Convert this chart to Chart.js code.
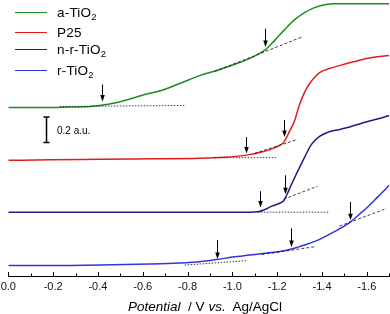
<!DOCTYPE html>
<html><head><meta charset="utf-8">
<script src="https://cdn.jsdelivr.net/npm/chart.js@4.4.0/dist/chart.umd.min.js"></script>
<style>
html,body{margin:0;padding:0;background:#fff;}
#wrap{position:relative;width:390px;height:314px;overflow:hidden;font-family:"Liberation Sans",Arial,sans-serif;color:#000;}
#wrap canvas{position:absolute;left:0;top:0;}
.li{position:absolute;left:15px;height:0;}
.li .ln{position:absolute;left:0;top:-0.75px;width:32px;height:0;border-top:1.5px solid;}
.li .tx{position:absolute;left:42px;top:-8px;font-size:13.5px;line-height:16px;white-space:nowrap;letter-spacing:0.2px;}
.li sub{font-size:9.5px;vertical-align:-3px;line-height:0;}
#xtitle{position:absolute;left:0;width:410px;top:299px;text-align:center;font-size:13.5px;line-height:16px;white-space:pre;}
</style>
</head><body>
<div id="wrap">
<canvas id="c" width="390" height="314"></canvas>
<div id="legend"></div>
<div id="xtitle"><i>Potential</i>  / V <i>vs.</i>  Ag/AgCl</div>
</div>
<script>
// ---- data (potential in V, signal in a.u.) ----
const seriesNames = ['a-TiO₂', 'P25', 'n-r-TiO₂', 'r-TiO₂'];
const seriesColors = ['#1e8c1e', '#e51c1c', '#1c1c8c', '#3434dc'];

const aTiO2V = [0, -0.141, -0.275, -0.364, -0.409, -0.475, -0.542, -0.609, -0.689, -0.765, -0.854, -0.943, -1.032, -1.099, -1.148, -1.188, -1.233, -1.278, -1.322, -1.367, -1.411, -1.456, -1.523, -1.612, -1.70];
const aTiO2A = [1.320, 1.320, 1.324, 1.328, 1.336, 1.355, 1.387, 1.422, 1.457, 1.508, 1.570, 1.617, 1.672, 1.723, 1.773, 1.844, 1.930, 2.008, 2.063, 2.102, 2.125, 2.133, 2.133, 2.133, 2.133];

const p25V = [0, -0.186, -0.409, -0.631, -0.854, -0.966, -1.055, -1.135, -1.193, -1.229, -1.255, -1.278, -1.300, -1.322, -1.345, -1.367, -1.389, -1.433, -1.478, -1.545, -1.598, -1.656, -1.70];
const p25A = [0.906, 0.910, 0.914, 0.918, 0.922, 0.930, 0.945, 0.973, 1.008, 1.047, 1.133, 1.219, 1.344, 1.438, 1.508, 1.555, 1.594, 1.625, 1.648, 1.680, 1.703, 1.719, 1.727];

const nrTiO2V = [0, -0.409, -0.854, -1.032, -1.113, -1.144, -1.175, -1.211, -1.229, -1.246, -1.264, -1.291, -1.322, -1.353, -1.389, -1.425, -1.478, -1.523, -1.567, -1.612, -1.656, -1.70];
const nrTiO2A = [0.500, 0.500, 0.500, 0.500, 0.504, 0.520, 0.547, 0.570, 0.590, 0.648, 0.719, 0.820, 0.930, 1.031, 1.094, 1.125, 1.148, 1.168, 1.191, 1.215, 1.234, 1.258];

const rTiO2V = [0, -0.186, -0.409, -0.631, -0.765, -0.854, -0.930, -1.001, -1.077, -1.153, -1.224, -1.264, -1.300, -1.376, -1.447, -1.523, -1.567, -1.598, -1.634, -1.665, -1.70];
const rTiO2A = [0.082, 0.082, 0.086, 0.094, 0.102, 0.112, 0.129, 0.148, 0.164, 0.180, 0.195, 0.211, 0.230, 0.277, 0.340, 0.418, 0.484, 0.531, 0.594, 0.648, 0.711];

// guide lines: baselines (flat) and tangents, [start, end]
const baselineV = [[-0.230, -0.787], [-0.921, -1.202], [-1.113, -1.433], [-0.787, -1.068]];
const baselineA = [[1.328, 1.336], [0.927, 0.927], [0.500, 0.500], [0.086, 0.120]];
const tangentV = [[-0.921, -1.309], [-1.099, -1.291], [-1.229, -1.380], [-1.131, -1.367], [-1.478, -1.688]];
const tangentA = [[1.602, 1.871], [0.961, 1.070], [0.602, 0.703], [0.168, 0.229], [0.391, 0.529]];

// onset arrows
const arrowV = [-0.416, -1.147, -1.059, -1.230, -1.125, -1.236, -0.931, -1.263, -1.527];
const arrowTipA = [1.367, 1.793, 0.959, 1.088, 0.537, 0.641, 0.133, 0.227, 0.4375];
const arrowTailA = [1.500, 1.938, 1.088, 1.223, 0.664, 0.789, 0.281, 0.373, 0.580];

// scale bar
const scaleBarV = -0.168;
const scaleBarLow = 1.045;
const scaleBarSize = 0.2;
const scaleBarLabel = '0.2 a.u.';

const xTickStep = 0.2;
const xMin = -1.7, xMax = 0;
const yMin = 0, yMax = 2.15625;

// ---- build ----
const FONT = '"Liberation Sans", Arial, sans-serif';
function pts(vs, as) { return vs.map((v, i) => ({x: v, y: as[i]})); }
function curve(i, vs, as) {
  return {label: seriesNames[i], data: pts(vs, as), borderColor: seriesColors[i], backgroundColor: seriesColors[i],
    borderWidth: 1.5, pointRadius: 0, cubicInterpolationMode: 'monotone', order: 2};
}
function guide(vs, as, dash) {
  return {label: '', data: pts(vs, as), borderColor: '#111', borderWidth: 0.8, borderDash: dash, pointRadius: 0, order: 1};
}
const datasets = [
  curve(0, aTiO2V, aTiO2A),
  curve(1, p25V, p25A),
  curve(2, nrTiO2V, nrTiO2A),
  curve(3, rTiO2V, rTiO2A),
  ...baselineV.map((v, i) => guide(v, baselineA[i], [1.5, 1.5])),
  ...tangentV.map((v, i) => guide(v, tangentA[i], [3, 2]))
];

const overlay = {
  id: 'overlay',
  afterDatasetsDraw(chart) {
    const {ctx, chartArea} = chart;
    const x = chart.scales.x, y = chart.scales.y;
    ctx.save();
    ctx.strokeStyle = '#000'; ctx.fillStyle = '#000'; ctx.lineWidth = 1;
    // arrows
    arrowV.forEach((v, i) => {
      const px = Math.round(x.getPixelForValue(v)) + 0.5;
      const ty = y.getPixelForValue(arrowTipA[i]);
      const ly = y.getPixelForValue(arrowTailA[i]);
      ctx.beginPath(); ctx.moveTo(px, ly); ctx.lineTo(px, ty - 4); ctx.stroke();
      ctx.beginPath(); ctx.moveTo(px - 2.3, ty - 6.5); ctx.lineTo(px + 2.3, ty - 6.5); ctx.lineTo(px, ty); ctx.closePath(); ctx.fill();
    });
    // scale bar
    const sx = Math.round(x.getPixelForValue(scaleBarV)) + 0.5;
    const sy0 = y.getPixelForValue(scaleBarLow), sy1 = y.getPixelForValue(scaleBarLow + scaleBarSize);
    ctx.lineWidth = 1.5;
    ctx.beginPath();
    ctx.moveTo(sx, sy0); ctx.lineTo(sx, sy1);
    ctx.moveTo(sx - 3, sy0); ctx.lineTo(sx + 3, sy0);
    ctx.moveTo(sx - 3, sy1); ctx.lineTo(sx + 3, sy1);
    ctx.stroke();
    ctx.font = '10px ' + FONT; ctx.textBaseline = 'middle'; ctx.textAlign = 'left';
    ctx.fillText(scaleBarLabel, sx + 10.5, (sy0 + sy1) / 2 + 1);
    // inward tick marks (major at labelled ticks, minor halfway)
    const ay = chartArea.bottom;
    ctx.lineWidth = 1;
    const tv = x.ticks.map(t => t.value);
    const marks = [];
    tv.forEach((v, i) => { marks.push([v, 4]); if (i > 0) marks.push([(v + tv[i - 1]) / 2, 2.5]); });
    marks.push([tv[tv.length - 1] - xTickStep / 2, 2.5]);
    marks.forEach(([v, len]) => {
      if (v < xMin - 1e-9) return;
      const p = Math.round(x.getPixelForValue(v)) + 0.5;
      ctx.beginPath(); ctx.moveTo(p, ay); ctx.lineTo(p, ay - len); ctx.stroke();
    });
    ctx.restore();
  }
};

const chart = new Chart(document.getElementById('c'), {
  type: 'line',
  data: {datasets},
  options: {
    responsive: false, animation: false, events: [],
    layout: {padding: {left: 8.3, right: 0, top: 0, bottom: 20.8}},
    plugins: {legend: {display: false}, tooltip: {enabled: false}},
    scales: {
      x: {type: 'linear', min: xMin, max: xMax, reverse: true,
        ticks: {stepSize: xTickStep, includeBounds: false, padding: 4, color: '#111', maxRotation: 0, autoSkip: false,
          font: {family: FONT, size: 11}, callback: v => Number(v).toFixed(1)},
        grid: {drawOnChartArea: false, drawTicks: false},
        border: {display: true, color: '#000', width: 1},
        afterFit(s) { s.paddingLeft = 0; s.paddingRight = 0; }
      },
      y: {type: 'linear', display: false, min: yMin, max: yMax}
    }
  },
  plugins: [overlay]
});

// pin the plot area to the reference frame (left 8.3, top 0, bottom 276)
(function pinArea() {
  const pad = chart.options.layout.padding;
  const ca = chart.chartArea;
  pad.bottom += ca.bottom - 276;
  pad.left += 8.3 - ca.left;
  pad.top += 0 - ca.top;
  chart.update();
})();

// legend (HTML, from the series definitions)
const legendRowsY = [12.7, 32.7, 49.6, 70.7];
const lg = document.getElementById('legend');
seriesNames.forEach((n, i) => {
  const row = document.createElement('div');
  row.className = 'li';
  row.style.top = legendRowsY[i] + 'px';
  row.innerHTML = '<div class="ln" style="border-color:' + seriesColors[i] + '"></div><div class="tx">' + n.replace('₂', '<sub>2</sub>') + '</div>';
  lg.appendChild(row);
});
</script>
</body></html>
